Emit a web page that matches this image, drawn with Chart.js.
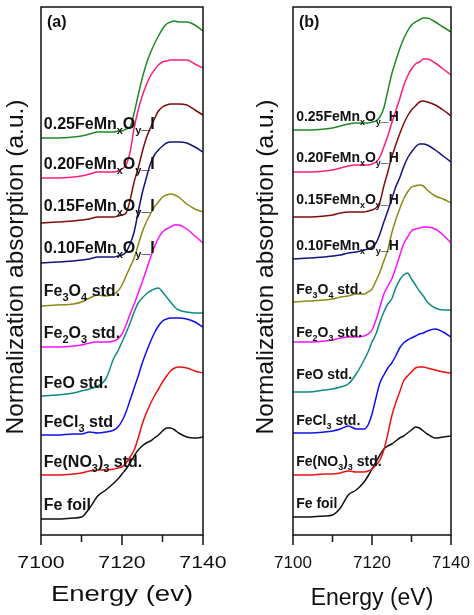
<!DOCTYPE html>
<html>
<head>
<meta charset="utf-8">
<script src="https://cdn.jsdelivr.net/npm/chart.js@4.4.1/dist/chart.umd.min.js"></script>
<style>
  html, body { margin: 0; padding: 0; background: #fff; }
  #wrap { position: relative; width: 474px; height: 615px; }
  .panel { position: absolute; top: 0; width: 237px; height: 615px; }
</style>
</head>
<body>
<div id="wrap">
  <div class="panel" style="left:0"><canvas id="chartA" width="237" height="615"></canvas></div>
  <div class="panel" style="left:237px"><canvas id="chartB" width="237" height="615"></canvas></div>
</div>
<script>
// photon energy (eV), shared by every spectrum
const energy = [7100, 7104, 7108, 7110, 7112, 7114, 7116, 7118, 7119, 7120, 7121, 7122, 7123, 7124,
                7125, 7126, 7127, 7128, 7129, 7130, 7131, 7132, 7133, 7134, 7136, 7138, 7140];

// panel (a) – stacked normalized absorption (a.u.)
const mn25_I = [3.97,3.97,3.98,3.99,4.01,4.03,4.03,4.03,4.04,4.04,4.06,4.08,4.22,4.40,4.57,4.71,4.82,4.91,4.99,5.06,5.11,5.13,5.14,5.13,5.13,5.10,5.04];
const mn20_I = [3.57,3.57,3.58,3.59,3.61,3.63,3.63,3.63,3.64,3.66,3.70,3.83,4.07,4.25,4.39,4.50,4.59,4.65,4.70,4.73,4.74,4.75,4.75,4.75,4.75,4.71,4.67];
const mn15_I = [3.12,3.13,3.14,3.15,3.16,3.18,3.18,3.18,3.19,3.20,3.22,3.35,3.53,3.67,3.83,3.97,4.07,4.16,4.24,4.28,4.30,4.31,4.31,4.31,4.30,4.25,4.20];
const mn10_I = [2.72,2.73,2.74,2.75,2.76,2.78,2.78,2.78,2.79,2.80,2.83,2.91,3.03,3.23,3.42,3.57,3.71,3.80,3.85,3.89,3.92,3.93,3.93,3.93,3.92,3.88,3.83];
const fe3o4_a = [2.29,2.30,2.31,2.33,2.37,2.40,2.39,2.41,2.44,2.50,2.59,2.68,2.77,2.90,3.03,3.13,3.21,3.28,3.33,3.38,3.40,3.41,3.40,3.38,3.31,3.26,3.23];
const fe2o3_a = [1.88,1.88,1.89,1.90,1.92,1.93,1.93,1.94,1.96,2.01,2.10,2.21,2.31,2.42,2.53,2.65,2.77,2.88,2.97,3.03,3.06,3.08,3.10,3.10,3.06,2.99,2.92];
const feo_a   = [1.39,1.40,1.42,1.44,1.46,1.49,1.56,1.77,1.84,1.93,2.02,2.12,2.23,2.32,2.37,2.41,2.44,2.46,2.47,2.43,2.38,2.33,2.28,2.25,2.23,2.22,2.22];
const fecl3_a = [1.00,1.00,1.01,1.01,1.03,1.02,1.03,1.05,1.08,1.14,1.23,1.35,1.47,1.59,1.72,1.83,1.93,2.02,2.09,2.14,2.16,2.17,2.17,2.17,2.16,2.13,2.08];
const feno3_a = [0.60,0.60,0.61,0.62,0.64,0.65,0.65,0.66,0.67,0.68,0.72,0.78,0.85,0.97,1.11,1.22,1.31,1.39,1.46,1.53,1.59,1.64,1.67,1.68,1.67,1.64,1.62];
const foil_a  = [0.16,0.16,0.17,0.18,0.27,0.39,0.45,0.52,0.56,0.61,0.66,0.72,0.79,0.85,0.89,0.92,0.94,0.97,1.00,1.04,1.07,1.07,1.05,1.02,0.98,0.97,0.98];

// panel (b)
const mn25_H = [4.05,4.05,4.06,4.07,4.09,4.11,4.12,4.12,4.12,4.13,4.14,4.18,4.27,4.44,4.61,4.74,4.86,4.96,5.04,5.10,5.13,5.15,5.17,5.17,5.13,5.08,5.03];
const mn20_H = [3.63,3.63,3.64,3.65,3.67,3.69,3.70,3.70,3.70,3.71,3.73,3.78,3.88,3.99,4.12,4.24,4.36,4.49,4.59,4.66,4.71,4.73,4.76,4.76,4.72,4.66,4.60];
const mn15_H = [3.18,3.18,3.19,3.20,3.22,3.23,3.23,3.23,3.24,3.25,3.27,3.33,3.49,3.63,3.78,3.90,4.01,4.11,4.19,4.25,4.29,4.33,4.34,4.33,4.30,4.25,4.19];
const mn10_H = [2.76,2.77,2.78,2.79,2.80,2.82,2.83,2.85,2.86,2.88,2.92,3.01,3.13,3.24,3.36,3.48,3.57,3.68,3.77,3.83,3.88,3.91,3.91,3.90,3.85,3.79,3.73];
const fe3o4_b = [2.33,2.34,2.35,2.36,2.38,2.39,2.41,2.41,2.43,2.46,2.54,2.63,2.74,2.85,3.02,3.15,3.26,3.36,3.43,3.48,3.49,3.50,3.49,3.45,3.39,3.36,3.32];
const fe2o3_b = [1.93,1.93,1.94,1.95,1.97,1.98,1.98,1.99,2.01,2.05,2.15,2.28,2.41,2.49,2.56,2.67,2.79,2.91,2.98,3.04,3.06,3.07,3.08,3.08,3.06,3.00,2.92];
const feo_b   = [1.43,1.43,1.45,1.46,1.48,1.51,1.61,1.75,1.83,1.93,2.01,2.13,2.23,2.31,2.36,2.47,2.55,2.60,2.62,2.56,2.50,2.44,2.39,2.33,2.27,2.25,2.25];
const fecl3_b = [1.02,1.02,1.03,1.04,1.06,1.09,1.06,1.06,1.10,1.21,1.37,1.52,1.60,1.67,1.72,1.79,1.87,1.92,1.95,1.97,1.99,2.01,2.02,2.04,2.06,2.03,1.98];
const feno3_b = [0.60,0.60,0.61,0.61,0.62,0.64,0.63,0.63,0.64,0.66,0.70,0.75,0.85,1.01,1.19,1.32,1.43,1.54,1.59,1.63,1.67,1.68,1.68,1.67,1.65,1.63,1.62];
const foil_b  = [0.18,0.18,0.19,0.20,0.27,0.40,0.45,0.53,0.59,0.66,0.73,0.80,0.86,0.89,0.91,0.94,0.97,0.99,1.02,1.05,1.08,1.07,1.04,1.01,0.97,0.98,0.99];

// curve labels, {..} = subscript
const namesA = ['0.25FeMn{x}O{y}_I', '0.20FeMn{x}O{y}_I', '0.15FeMn{x}O{y}_I', '0.10FeMn{x}O{y}_I',
                'Fe{3}O{4} std.', 'Fe{2}O{3} std.', 'FeO std.', 'FeCl{3} std', 'Fe(NO{3}){3} std.', 'Fe foil'];
const namesB = ['0.25FeMn{x}O{y}_H', '0.20FeMn{x}O{y}_H', '0.15FeMn{x}O{y}_H', '0.10FeMn{x}O{y}_H',
                'Fe{3}O{4} std.', 'Fe{2}O{3} std.', 'FeO std.', 'FeCl{3} std.', 'Fe(NO{3}){3} std.', 'Fe foil'];
const lineColors = ['#1f8a24', '#ff1e7a', '#7f0d0d', '#13137f', '#8a8a14',
                    '#ff10ff', '#0e8a84', '#1010f0', '#f01010', '#111111'];

const FONT = '"Liberation Sans", Arial, Helvetica, sans-serif';

function drawRich(ctx, str, x, y, size) {
  const parts = str.split(/(\{[^}]*\})/);
  for (const p of parts) {
    if (!p) continue;
    if (p[0] === '{') {
      const t = p.slice(1, -1);
      ctx.font = 'bold ' + Math.round(size * 0.66) + 'px ' + FONT;
      ctx.fillText(t, x, y + size * 0.3);
      x += ctx.measureText(t).width;
    } else {
      ctx.font = 'bold ' + size + 'px ' + FONT;
      ctx.fillText(p, x, y);
      x += ctx.measureText(p).width;
    }
  }
}

// text squeezed/stretched horizontally around its centre
function wideText(ctx, text, cx, baseline, font, stretch) {
  ctx.save();
  ctx.font = font;
  ctx.textAlign = 'center';
  ctx.textBaseline = 'alphabetic';
  ctx.translate(cx, baseline);
  ctx.scale(stretch, 1);
  ctx.fillText(text, 0, 0);
  ctx.restore();
}

const panelDecor = {
  id: 'panelDecor',
  afterDraw(chart, args, o) {
    const { ctx, chartArea: a, scales: { x, y } } = chart;
    ctx.save();
    ctx.strokeStyle = '#111';
    ctx.lineWidth = 1.5;
    ctx.strokeRect(a.left, a.top, a.right - a.left, a.bottom - a.top);
    // outward ticks, long at labelled values
    for (let e = 7100; e <= 7140; e += 10) {
      const px = x.getPixelForValue(e);
      const len = (e % 20 === 0) ? 10 : 7;
      ctx.beginPath();
      ctx.moveTo(px, a.bottom);
      ctx.lineTo(px, a.bottom + len);
      ctx.stroke();
    }
    ctx.fillStyle = '#111';
    // tick labels and axis title
    x.ticks.forEach(t => {
      wideText(ctx, String(t.value), x.getPixelForValue(t.value), 568, '17px ' + FONT, o.stretch);
    });
    wideText(ctx, o.xTitle, (a.left + a.right) / 2, o.xTitleBase, o.xTitleSize + 'px ' + FONT, o.stretch);
    // panel tag
    ctx.font = 'bold 16px ' + FONT;
    ctx.textAlign = 'left';
    ctx.textBaseline = 'alphabetic';
    ctx.fillText(o.tag, a.left + 6, a.top + 20);
    // curve labels
    o.names.forEach((n, i) => {
      drawRich(ctx, n, x.getPixelForValue(o.labelX), y.getPixelForValue(o.labelY[i]) + o.size * 0.36, o.size);
    });
    // y axis title
    ctx.translate(o.yTitleX, o.yTitleY);
    ctx.rotate(-Math.PI / 2);
    ctx.font = '24.5px ' + FONT;
    ctx.textAlign = 'center';
    ctx.textBaseline = 'middle';
    ctx.fillText('Normalization absorption (a.u.)', 0, 0);
    ctx.restore();
  }
};

function makeChart(id, seriesList, cfg) {
  const datasets = seriesList.map((vals, i) => ({
    label: cfg.names[i],
    data: energy.map((e, k) => ({ x: e, y: vals[k] })),
    borderColor: lineColors[i],
    borderWidth: 1.5,
    pointRadius: 0,
    fill: false,
    cubicInterpolationMode: 'monotone'
  }));
  return new Chart(document.getElementById(id), {
    type: 'line',
    data: { datasets },
    options: {
      responsive: false,
      animation: false,
      devicePixelRatio: 1,
      layout: { padding: cfg.padding },
      plugins: {
        legend: { display: false },
        tooltip: { enabled: false },
        panelDecor: cfg
      },
      scales: {
        x: {
          type: 'linear', min: 7100, max: 7140,
          ticks: { stepSize: 20, display: false },
          grid: { display: false, drawTicks: false },
          border: { display: false },
          afterFit(s) { s.height = 80; }
        },
        y: { display: false, min: 0, max: 5.28 }
      }
    },
    plugins: [panelDecor]
  });
}

makeChart('chartA',
  [mn25_I, mn20_I, mn15_I, mn10_I, fe3o4_a, fe2o3_a, feo_a, fecl3_a, feno3_a, foil_a],
  { tag: '(a)', names: namesA, size: 16, labelX: 7100.7,
    labelY: [4.12, 3.72, 3.30, 2.88, 2.45, 2.03, 1.53, 1.14, 0.74, 0.31],
    padding: { left: 41, right: 34, top: 7, bottom: 0 }, stretch: 1.25,
    xTitle: 'Energy (ev)', xTitleSize: 22, xTitleBase: 601, yTitleX: 16, yTitleY: 267 });

makeChart('chartB',
  [mn25_H, mn20_H, mn15_H, mn10_H, fe3o4_b, fe2o3_b, feo_b, fecl3_b, feno3_b, foil_b],
  { tag: '(b)', names: namesB, size: 14, labelX: 7100.8,
    labelY: [4.19, 3.78, 3.36, 2.90, 2.46, 2.03, 1.61, 1.15, 0.74, 0.32],
    padding: { left: 56, right: 23, top: 7, bottom: 0 }, stretch: 1.0,
    xTitle: 'Energy (eV)', xTitleSize: 23, xTitleBase: 605, yTitleX: 29, yTitleY: 267 });
</script>
</body>
</html>
